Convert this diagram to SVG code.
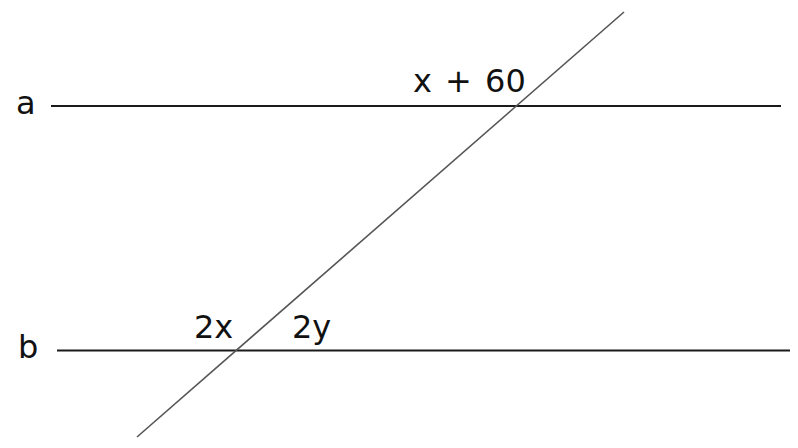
<svg xmlns="http://www.w3.org/2000/svg" width="798" height="448" viewBox="0 0 798 448">
<style>
.t{font-family:"DejaVu Sans","Verdana",sans-serif;font-size:32px;fill:#111}
.h{stroke:#1a1a1a;stroke-width:2;fill:none}
.tr{stroke:#555;stroke-width:1.6;fill:none}
</style>
<rect width="798" height="448" fill="#fff"/>
<g id="lines">
<line class="h" x1="51" y1="106" x2="781" y2="106"/>
<line class="h" x1="57" y1="350.5" x2="790" y2="350.5"/>
<line class="tr" x1="624" y1="12" x2="137" y2="437"/>
</g>
<g id="labels">
<text class="t" x="16" y="114">a</text>
<text class="t" x="18" y="358">b</text>
<text class="t" x="413" y="92" word-spacing="3">x + 60</text>
<text class="t" x="194" y="338">2x</text>
<text class="t" x="292" y="338">2y</text>
</g>
</svg>
